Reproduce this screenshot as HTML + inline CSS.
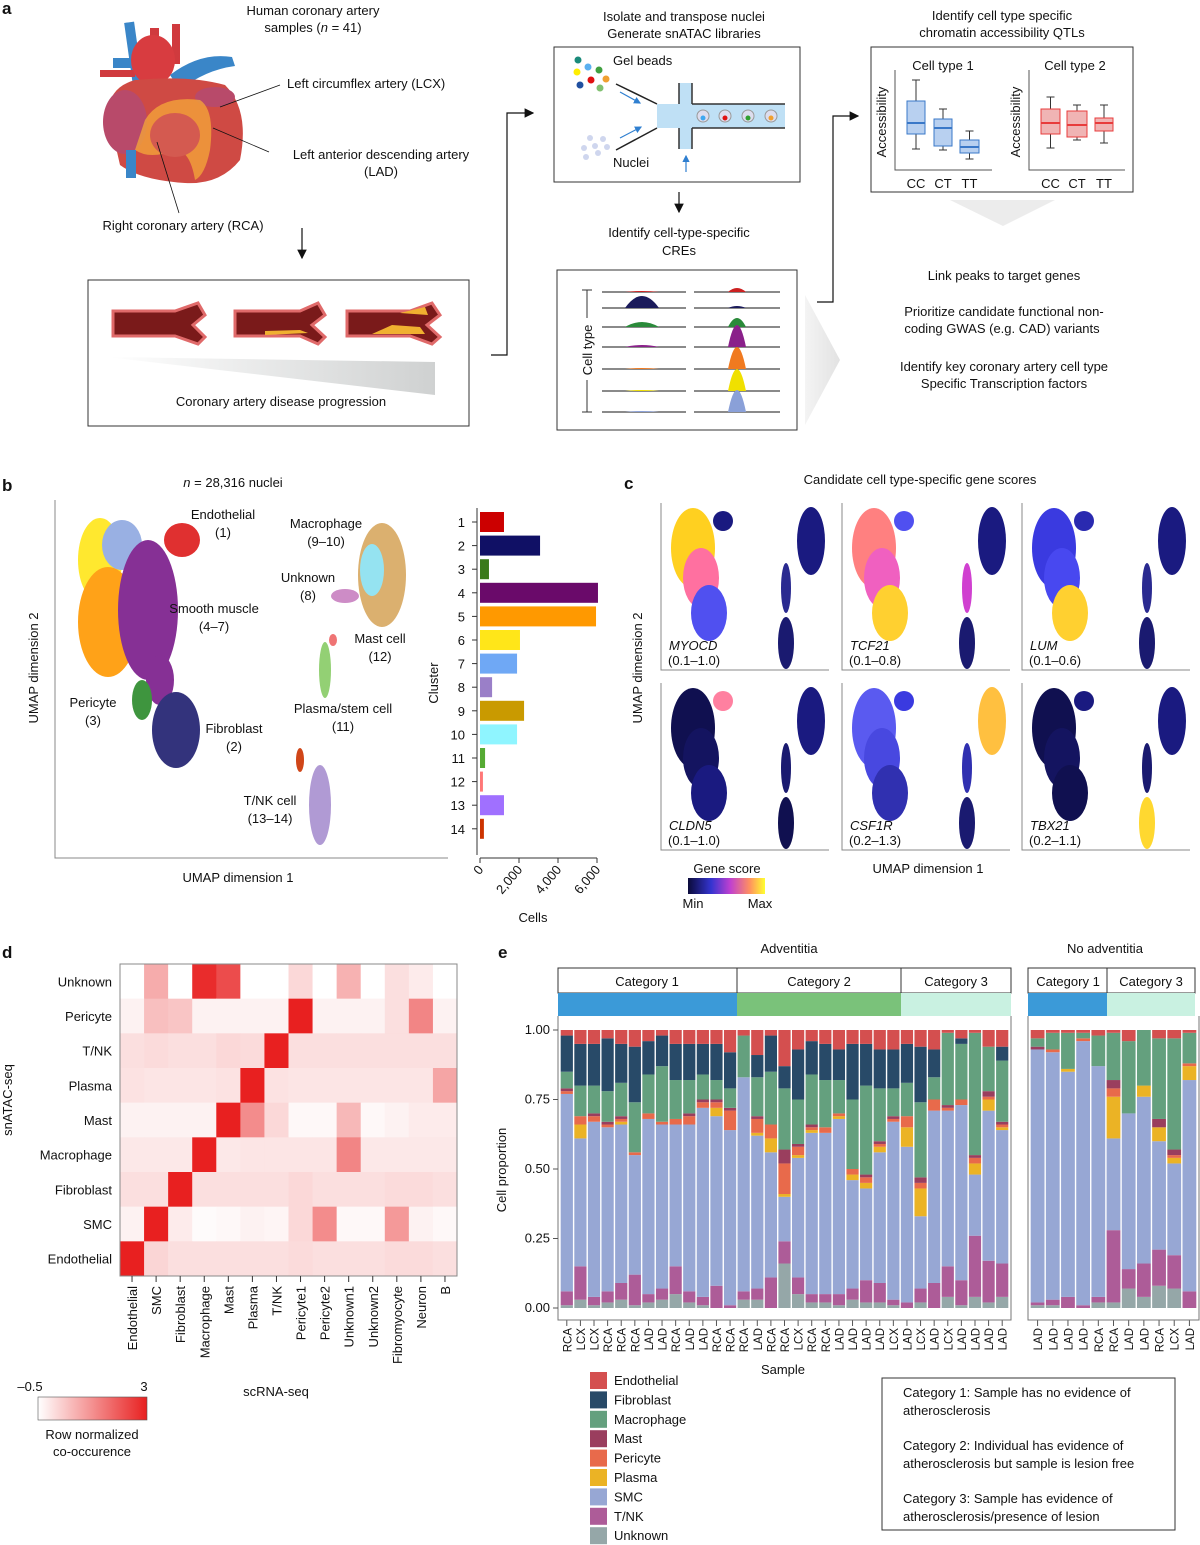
<!DOCTYPE html>
<html><head><meta charset="utf-8"><style>
html,body{margin:0;padding:0;background:#fff;}
svg{display:block;font-family:"Liberation Sans",Arial,sans-serif;}
text{fill:#111;}
</style></head><body>
<svg id="fig" width="1200" height="1545" viewBox="0 0 1200 1545" xmlns="http://www.w3.org/2000/svg">
<defs>
<linearGradient id="wedge" x1="0" x2="1" y1="0" y2="0"><stop offset="0" stop-color="#fff"/><stop offset="1" stop-color="#cfd1d1"/></linearGradient>
<linearGradient id="gscore" x1="0" x2="1"><stop offset="0" stop-color="#0b0b3a"/><stop offset="0.3" stop-color="#3434d0"/><stop offset="0.55" stop-color="#c040d0"/><stop offset="0.8" stop-color="#ff9060"/><stop offset="1" stop-color="#ffff30"/></linearGradient>
<linearGradient id="heatgrad" x1="0" x2="1"><stop offset="0" stop-color="#ffffff"/><stop offset="1" stop-color="#e82020"/></linearGradient>
<linearGradient id="chev" x1="0" x2="1"><stop offset="0" stop-color="#f4f4f4"/><stop offset="1" stop-color="#e2e2e2"/></linearGradient>
<marker id="ah" markerWidth="8" markerHeight="8" refX="7" refY="4" orient="auto"><path d="M0,0 L8,4 L0,8 z" fill="#111"/></marker>
<marker id="ahb" markerWidth="6" markerHeight="6" refX="5" refY="3" orient="auto"><path d="M0,0 L6,3 L0,6 z" fill="#2f7fd0"/></marker>
</defs>

<!-- ===== Panel a ===== -->
<g>
<text x="2" y="14" font-size="17" font-weight="bold">a</text>
<g>
<rect x="128" y="22" width="10" height="60" fill="#3a86c8" transform="rotate(-8 133 50)"/>
<rect x="113" y="58" width="30" height="10" fill="#3a86c8"/>
<rect x="150" y="28" width="9" height="45" fill="#d03a3e"/>
<rect x="172" y="24" width="8" height="40" fill="#d03a3e"/>
<rect x="100" y="70" width="35" height="7" fill="#d03a3e"/>
<ellipse cx="153" cy="60" rx="22" ry="25" fill="#d83c40"/>
<path d="M170,75 Q200,52 232,57 L235,66 Q205,70 180,90 z" fill="#3a86c8"/>
<path d="M112,130 Q100,90 135,80 Q190,75 225,85 Q250,110 240,160 Q220,185 185,183 Q140,180 120,165 z" fill="#cf4a44"/>
<ellipse cx="125" cy="122" rx="22" ry="32" fill="#b84a6a"/>
<ellipse cx="215" cy="97" rx="20" ry="10" fill="#b84a6a"/>
<path d="M145,120 Q160,95 200,100 Q215,110 210,150 Q205,175 195,180 Q190,150 175,150 Q150,160 135,150 z" fill="#f2a33a" opacity="0.8"/>
<ellipse cx="175" cy="135" rx="25" ry="22" fill="#d45a50"/>
<rect x="126" y="150" width="10" height="28" fill="#3a86c8"/>
<line x1="280" y1="85" x2="220" y2="107" stroke="#111" stroke-width="0.8"/>
<line x1="269" y1="152" x2="213" y2="128" stroke="#111" stroke-width="0.8"/>
<line x1="179" y1="213" x2="157" y2="142" stroke="#111" stroke-width="0.8"/>
</g>
<text x="313" y="15" font-size="13" text-anchor="middle">Human coronary artery</text>
<text x="313" y="32" font-size="13" text-anchor="middle">samples (<tspan font-style="italic">n</tspan> = 41)</text>
<text x="287" y="88" font-size="13">Left circumflex artery (LCX)</text>
<text x="381" y="159" font-size="13" text-anchor="middle">Left anterior descending artery</text>
<text x="381" y="176" font-size="13" text-anchor="middle">(LAD)</text>
<text x="183" y="230" font-size="13" text-anchor="middle">Right coronary artery (RCA)</text>
<line x1="302" y1="228" x2="302" y2="258" stroke="#111" stroke-width="1.2" marker-end="url(#ah)"/>
<rect x="88" y="280" width="381" height="146" fill="none" stroke="#333" stroke-width="1"/>
<g>
<path d="M113,311 L175,311 L198,303 L205,315 L193,325 L205,337 L198,344 L175,336 L113,336 z" fill="#7a1a1a" stroke="#e06a6a" stroke-width="3"/>
<path d="M235,311 L300,311 L318,303 L325,315 L312,325 L325,337 L318,344 L300,336 L235,336 z" fill="#7a1a1a" stroke="#e06a6a" stroke-width="3"/>
<path d="M265,331 L300,330 L308,333 L265,335 z" fill="#f0b030"/>
<path d="M347,311 L410,311 L432,303 L440,315 L427,325 L440,337 L432,344 L410,336 L347,336 z" fill="#7a1a1a" stroke="#e06a6a" stroke-width="3"/>
<path d="M372,334 L392,325 L420,327 L425,334 z" fill="#f0b030"/>
<path d="M400,313 L425,307 L428,315 z" fill="#f0b030"/>
</g>
<polygon points="107,357 435,362 435,395" fill="url(#wedge)"/>
<text x="281" y="406" font-size="13" text-anchor="middle">Coronary artery disease progression</text>
<polyline points="491,355 507,355 507,113 533,113" fill="none" stroke="#111" stroke-width="1.2" marker-end="url(#ah)"/>

<text x="684" y="21" font-size="13" text-anchor="middle">Isolate and transpose nuclei</text>
<text x="684" y="38" font-size="13" text-anchor="middle">Generate snATAC libraries</text>
<rect x="554" y="47" width="246" height="135" fill="none" stroke="#333" stroke-width="1"/>
<g>
<circle cx="578" cy="60" r="3.5" fill="#1a8a7a"/><circle cx="588" cy="67" r="3.5" fill="#5ab0f0"/><circle cx="599" cy="70" r="3.5" fill="#40a040"/>
<circle cx="577" cy="72" r="3.5" fill="#ffee00"/><circle cx="591" cy="80" r="3.5" fill="#e01010"/><circle cx="606" cy="79" r="3.5" fill="#f0a030"/>
<circle cx="580" cy="85" r="3.5" fill="#2050a0"/><circle cx="600" cy="88" r="3.5" fill="#80c070"/>
<g fill="#cfd6ee"><circle cx="590" cy="138" r="3"/><circle cx="603" cy="139" r="3"/><circle cx="584" cy="148" r="3"/><circle cx="595" cy="146" r="3"/><circle cx="607" cy="147" r="3"/><circle cx="598" cy="153" r="3"/><circle cx="586" cy="157" r="3"/></g>
<rect x="657" y="104" width="128" height="24" fill="#bfe0f5"/>
<rect x="679" y="83" width="13" height="66" fill="#bfe0f5"/>
<line x1="616" y1="84" x2="657" y2="104" stroke="#222" stroke-width="1.5"/>
<line x1="616" y1="150" x2="657" y2="128" stroke="#222" stroke-width="1.5"/>
<line x1="692" y1="104" x2="785" y2="104" stroke="#333" stroke-width="1.5"/><line x1="692" y1="128" x2="785" y2="128" stroke="#333" stroke-width="1.5"/>
<line x1="679" y1="83" x2="679" y2="104" stroke="#333" stroke-width="1.5"/><line x1="692" y1="83" x2="692" y2="104" stroke="#333" stroke-width="1.5"/>
<line x1="679" y1="128" x2="679" y2="149" stroke="#333" stroke-width="1.5"/><line x1="692" y1="128" x2="692" y2="149" stroke="#333" stroke-width="1.5"/>
<g stroke="#999" fill="#dde"><circle cx="703" cy="116" r="6"/><circle cx="725" cy="116" r="6"/><circle cx="748" cy="116" r="6"/><circle cx="771" cy="116" r="6"/></g>
<circle cx="703" cy="118" r="2.5" fill="#40a8f0"/><circle cx="725" cy="118" r="2.5" fill="#e01010"/><circle cx="748" cy="118" r="2.5" fill="#30a030"/><circle cx="771" cy="118" r="2.5" fill="#f0a030"/>
<line x1="620" y1="92" x2="640" y2="103" stroke="#2f7fd0" stroke-width="1.2" marker-end="url(#ahb)"/>
<line x1="620" y1="138" x2="641" y2="127" stroke="#2f7fd0" stroke-width="1.2" marker-end="url(#ahb)"/>
<line x1="686" y1="172" x2="686" y2="156" stroke="#2f7fd0" stroke-width="1.2" marker-end="url(#ahb)"/>
</g>
<text x="613" y="65" font-size="13">Gel beads</text>
<text x="613" y="167" font-size="13">Nuclei</text>
<line x1="679" y1="192" x2="679" y2="212" stroke="#111" stroke-width="1.2" marker-end="url(#ah)"/>
<text x="679" y="237" font-size="13" text-anchor="middle">Identify cell-type-specific</text>
<text x="679" y="255" font-size="13" text-anchor="middle">CREs</text>
<rect x="557" y="270" width="240" height="160" fill="none" stroke="#333" stroke-width="1"/>
<g id="tracks"></g>
<line x1="587" y1="290" x2="587" y2="412" stroke="#333"/><line x1="582" y1="290" x2="592" y2="290" stroke="#333"/><line x1="582" y1="412" x2="592" y2="412" stroke="#333"/>
<rect x="578" y="318" width="18" height="62" fill="#fff"/>
<text transform="translate(592,350) rotate(-90)" font-size="13" text-anchor="middle">Cell type</text>
<polygon points="805,295 840,360 805,425" fill="url(#chev)"/>
<polyline points="817,302 833,302 833,116 858,116" fill="none" stroke="#111" stroke-width="1.2" marker-end="url(#ah)"/>

<text x="1002" y="20" font-size="13" text-anchor="middle">Identify cell type specific</text>
<text x="1002" y="37" font-size="13" text-anchor="middle">chromatin accessibility QTLs</text>
<rect x="871" y="47" width="262" height="145" fill="none" stroke="#333" stroke-width="1"/>
<g id="qtl"></g>
<polygon points="950,200 1055,200 1003,226" fill="#ececec"/>
<text x="1004" y="280" font-size="13" text-anchor="middle">Link peaks to target genes</text>
<text x="1004" y="316" font-size="13" text-anchor="middle">Prioritize candidate functional  non-</text>
<text x="1002" y="333" font-size="13" text-anchor="middle">coding GWAS (e.g. CAD) variants</text>
<text x="1004" y="371" font-size="13" text-anchor="middle">Identify key coronary artery cell type</text>
<text x="1004" y="388" font-size="13" text-anchor="middle">Specific Transcription factors</text>
</g>

<!-- ===== Panel b ===== -->
<g>
<text x="2" y="491" font-size="17" font-weight="bold">b</text>
<text x="233" y="487" font-size="13" text-anchor="middle"><tspan font-style="italic">n</tspan> = 28,316 nuclei</text>
<polyline points="55,500 55,858 448,858" fill="none" stroke="#888" stroke-width="1"/>
<g opacity="0.9">
<ellipse cx="100" cy="560" rx="22" ry="42" fill="#ffe619"/>
<ellipse cx="108" cy="622" rx="30" ry="55" fill="#ff9900"/>
<ellipse cx="122" cy="545" rx="20" ry="25" fill="#8ea8e0"/>
<ellipse cx="148" cy="610" rx="30" ry="70" fill="#7a1a8a"/>
<ellipse cx="160" cy="680" rx="14" ry="25" fill="#7a1a8a"/>
<ellipse cx="182" cy="540" rx="18" ry="17" fill="#dd1a1a"/>
<ellipse cx="176" cy="730" rx="24" ry="38" fill="#1e1e6e"/>
<ellipse cx="142" cy="700" rx="10" ry="20" fill="#2a8a2a"/>
<ellipse cx="382" cy="575" rx="24" ry="52" fill="#d8a860"/>
<ellipse cx="372" cy="570" rx="12" ry="26" fill="#8ae0f0"/>
<ellipse cx="345" cy="596" rx="14" ry="7" fill="#c880c0"/>
<ellipse cx="325" cy="670" rx="6" ry="28" fill="#88cc66"/>
<ellipse cx="333" cy="640" rx="4" ry="6" fill="#ee6666"/>
<ellipse cx="320" cy="805" rx="11" ry="40" fill="#a890d0"/>
<ellipse cx="300" cy="760" rx="4" ry="12" fill="#cc3300"/>
</g>
<g font-size="13" text-anchor="middle">
<text x="223" y="519">Endothelial</text><text x="223" y="537">(1)</text>
<text x="326" y="528">Macrophage</text><text x="326" y="546">(9–10)</text>
<text x="308" y="582">Unknown</text><text x="308" y="600">(8)</text>
<text x="214" y="613">Smooth muscle</text><text x="214" y="631">(4–7)</text>
<text x="380" y="643">Mast cell</text><text x="380" y="661">(12)</text>
<text x="93" y="707">Pericyte</text><text x="93" y="725">(3)</text>
<text x="234" y="733">Fibroblast</text><text x="234" y="751">(2)</text>
<text x="343" y="713">Plasma/stem cell</text><text x="343" y="731">(11)</text>
<text x="270" y="805">T/NK cell</text><text x="270" y="823">(13–14)</text>
</g>
<text transform="translate(38,668) rotate(-90)" font-size="13" text-anchor="middle">UMAP dimension  2</text>
<text x="238" y="882" font-size="13" text-anchor="middle">UMAP dimension  1</text>
<g id="barsB"></g>
<text transform="translate(438,683) rotate(-90)" font-size="13" text-anchor="middle">Cluster</text>
<text x="533" y="922" font-size="13" text-anchor="middle">Cells</text>
</g>

<!-- ===== Panel c ===== -->
<g>
<text x="624" y="489" font-size="17" font-weight="bold">c</text>
<text x="920" y="484" font-size="13" text-anchor="middle">Candidate cell type-specific gene scores</text>
<g id="genepanels"></g>
<text transform="translate(642,668) rotate(-90)" font-size="13" text-anchor="middle">UMAP dimension  2</text>
<text x="928" y="873" font-size="13" text-anchor="middle">UMAP dimension  1</text>
<text x="727" y="873" font-size="13" text-anchor="middle">Gene score</text>
<rect x="688" y="878" width="77" height="16" fill="url(#gscore)"/>
<text x="693" y="908" font-size="13" text-anchor="middle">Min</text>
<text x="760" y="908" font-size="13" text-anchor="middle">Max</text>
</g>

<!-- ===== Panel d ===== -->
<g>
<text x="2" y="958" font-size="17" font-weight="bold">d</text>
<g id="heat"></g>
<text transform="translate(12,1100) rotate(-90)" font-size="13" text-anchor="middle">snATAC-seq</text>
<text x="276" y="1396" font-size="13" text-anchor="middle">scRNA-seq</text>
<text x="30" y="1391" font-size="13" text-anchor="middle">–0.5</text>
<text x="144" y="1391" font-size="13" text-anchor="middle">3</text>
<rect x="38" y="1397" width="109" height="23" fill="url(#heatgrad)" stroke="#555" stroke-width="0.6"/>
<text x="92" y="1439" font-size="13" text-anchor="middle">Row normalized</text>
<text x="92" y="1456" font-size="13" text-anchor="middle">co-occurence</text>
</g>

<!-- ===== Panel e ===== -->
<g>
<text x="498" y="958" font-size="17" font-weight="bold">e</text>
<text x="789" y="953" font-size="13" text-anchor="middle">Adventitia</text>
<text x="1105" y="953" font-size="13" text-anchor="middle">No adventitia</text>
<g>
<rect x="558" y="968" width="453" height="25" fill="#fff" stroke="#333"/>
<line x1="737" y1="968" x2="737" y2="993" stroke="#333"/><line x1="901" y1="968" x2="901" y2="993" stroke="#333"/>
<text x="647" y="986" font-size="13" text-anchor="middle">Category 1</text>
<text x="819" y="986" font-size="13" text-anchor="middle">Category 2</text>
<text x="956" y="986" font-size="13" text-anchor="middle">Category 3</text>
<rect x="558" y="993" width="179" height="23" fill="#3b9ad8"/><rect x="737" y="993" width="164" height="23" fill="#7ac27a"/><rect x="901" y="993" width="110" height="23" fill="#c9f1e1"/>
</g>
<g>
<rect x="1028" y="968" width="167" height="25" fill="#fff" stroke="#333"/>
<line x1="1107" y1="968" x2="1107" y2="993" stroke="#333"/>
<text x="1068" y="986" font-size="13" text-anchor="middle">Category 1</text>
<text x="1151" y="986" font-size="13" text-anchor="middle">Category 3</text>
<rect x="1028" y="993" width="79" height="23" fill="#3b9ad8"/><rect x="1107" y="993" width="88" height="23" fill="#c9f1e1"/>
</g>
<g id="stackL"></g>
<g id="stackR"></g>
<text transform="translate(506,1170) rotate(-90)" font-size="13" text-anchor="middle">Cell proportion</text>
<text x="783" y="1374" font-size="13" text-anchor="middle">Sample</text>
<g id="legendE"></g>
<rect x="882" y="1378" width="293" height="152" fill="#fff" stroke="#333"/>
<g font-size="13">
<text x="903" y="1397">Category 1: Sample has no evidence of</text>
<text x="903" y="1415">atherosclerosis</text>
<text x="903" y="1450">Category 2: Individual has evidence of</text>
<text x="903" y="1468">atherosclerosis but sample is lesion free</text>
<text x="903" y="1503">Category 3: Sample has evidence of</text>
<text x="903" y="1521">atherosclerosis/presence of lesion</text>
</g>
</g>
</svg>
<script>
// ---- Panel b cluster counts ----
const clusterIds = [1,2,3,4,5,6,7,8,9,10,11,12,13,14];
const clusterCells = [1230,3080,460,6050,5950,2050,1900,620,2260,1900,260,150,1230,200];
const clusterColors = ["#cc0000","#101065","#3a7a1a","#6a0a6a","#ff9900","#ffe619","#6fa8f5","#9a7fc8","#c99a00","#8ff5ff","#55aa33","#ff7777","#a070ff","#cc3300"];
const cellTicks = [0,2000,4000,6000];
const cellTickLabels = ["0","2,000","4,000","6,000"];

// ---- Panel d heatmap ----
const heatRows = ["Unknown","Pericyte","T/NK","Plasma","Mast","Macrophage","Fibroblast","SMC","Endothelial"];
const heatCols = ["Endothelial","SMC","Fibroblast","Macrophage","Mast","Plasma","T/NK","Pericyte1","Pericyte2","Unknown1","Unknown2","Fibromyocyte","Neuron","B"];
const heatUnknown =    [-0.5,0.8,-0.5,2.8,2.3,-0.5,-0.5,0.1,-0.5,0.7,-0.5,0.0,-0.2,-0.5];
const heatPericyte =   [-0.3,0.5,0.4,-0.3,-0.3,-0.3,-0.3,3,-0.3,-0.3,-0.3,0.0,1.4,-0.3];
const heatTNK =        [0,0.05,0,0,0.1,0.05,3,0,0,0,0,0,0,0];
const heatPlasma =     [-0.05,-0.1,-0.1,-0.1,-0.05,3,-0.05,-0.1,-0.1,-0.1,-0.1,-0.1,-0.1,0.9];
const heatMast =       [-0.3,-0.3,-0.3,-0.3,3,1.3,0.1,-0.4,-0.4,0.6,-0.4,-0.3,-0.2,-0.2];
const heatMacrophage = [-0.15,-0.15,-0.15,3,-0.15,-0.1,-0.1,-0.1,-0.1,1.4,-0.15,-0.15,-0.15,-0.15];
const heatFibroblast = [0,0,3,0,0,0,0,0.1,0,0,0,0.05,0.05,0];
const heatSMC =        [-0.3,3,-0.2,-0.45,-0.4,-0.3,-0.35,0.1,1.3,-0.4,-0.4,1.1,-0.3,-0.4];
const heatEndothelial =[3,0.15,0,0,0,0,0,0.05,0,0,0,0.05,0.05,0];

// ---- Panel e stacked proportions (left: adventitia, 33 samples) ----
const samplesL = ["RCA","LCX","LCX","RCA","RCA","RCA","LAD","LAD","RCA","LAD","LAD","RCA","RCA","RCA","LAD","RCA","RCA","LCX","RCA","RCA","LAD","LAD","LAD","LAD","LCX","LAD","LCX","LAD","LCX","LAD","LAD","LAD","LAD"];
const unknownL =    [1,3,1,2,3,1,2,3,5,2,1,0,0,3,3,0,16,5,2,2,1,3,2,2,1,0,2,0,4,1,4,2,4];
const tnkL =        [5,12,3,4,6,11,3,4,10,4,3,8,1,3,4,11,8,6,3,3,4,4,8,7,2,2,5,9,11,9,22,15,12];
const smcL =        [71,46,63,59,57,43,63,59,51,60,68,61,63,77,55,45,16,43,58,58,63,39,33,47,64,56,26,62,56,63,22,54,48];
const plasmaL =     [0,5,0,0,1,0,0,0,0,0,0,3,0,0,1,5,1,1,1,0,1,2,2,2,0,7,10,0,0,0,4,4,1];
const pericyteL =   [1,3,2,1,1,1,2,1,2,3,2,2,7,0,5,5,11,3,1,2,1,2,2,1,1,4,2,4,1,2,2,1,1];
const mastL =       [1,0,1,1,1,0,0,0,0,1,1,1,1,0,1,0,5,1,1,0,0,0,1,1,1,0,2,0,1,0,1,2,1];
const macrophageL = [6,11,10,11,12,18,14,20,14,12,9,7,7,15,14,19,22,16,18,17,12,25,32,19,10,12,27,8,26,20,44,16,22];
const fibroblastL = [13,15,15,19,14,20,12,11,13,13,11,13,13,0,8,13,8,18,12,13,11,20,15,14,14,14,20,10,0,2,0,0,5];
const endothelialL =[2,5,5,3,5,6,4,2,5,5,5,5,8,2,9,2,13,7,4,5,7,5,5,7,7,5,6,7,1,3,1,6,6];
// right: no adventitia, 11 samples
const samplesR = ["LAD","LAD","LAD","LAD","RCA","RCA","LAD","LAD","RCA","LCX","LAD"];
const unknownR =    [1,1,0,0,2,2,7,4,8,7,0];
const tnkR =        [1,2,4,1,2,26,7,12,13,12,6];
const smcR =        [91,89,81,95,83,33,56,60,39,33,76];
const plasmaR =     [0,0,1,0,0,15,0,4,5,2,5];
const pericyteR =   [0,1,0,1,0,3,0,0,0,1,1];
const mastR =       [1,0,0,0,0,3,0,0,3,2,0];
const macrophageR = [3,6,13,2,11,17,26,20,29,40,11];
const fibroblastR = [0,0,0,0,0,0,0,0,0,0,0];
const endothelialR =[3,1,1,1,2,1,4,0,3,3,1];
const cellTypes = ["Endothelial","Fibroblast","Macrophage","Mast","Pericyte","Plasma","SMC","T/NK","Unknown"];
const cellColors = ["#d44f4f","#284a68","#64a07e","#9a3e5e","#e86a4b","#ebb325","#97a7d4","#ad5c98","#95a7a8"];
const propTicks = [0,0.25,0.5,0.75,1];
const propTickLabels = ["0.00","0.25","0.50","0.75","1.00"];

const NS = "http://www.w3.org/2000/svg";
function mk(tag, attrs, parent){const e=document.createElementNS(NS,tag);for(const k in attrs)e.setAttribute(k,attrs[k]);parent.appendChild(e);return e;}

// --- QTL boxplots ---
(function(){
  const g=document.getElementById('qtl');
  const boxes=[[907,925,80,149,101,134,123],[934,952,109,150,119,146,128],[960,979,131,159,140,153,147],
               [1041,1060,97,148,109,134,123],[1067,1087,105,140,111,137,125],[1095,1113,105,143,118,131,123]];
  boxes.forEach((b,i)=>{
    const blue=i<3; const s=blue?"#3a78c8":"#e83c3c"; const f=blue?"#b8d0f0":"#f0b4b4";
    const cx=(b[0]+b[1])/2;
    mk('line',{x1:cx,x2:cx,y1:b[2],y2:b[3],stroke:"#333"},g);
    mk('line',{x1:cx-4,x2:cx+4,y1:b[2],y2:b[2],stroke:"#333"},g);
    mk('line',{x1:cx-4,x2:cx+4,y1:b[3],y2:b[3],stroke:"#333"},g);
    mk('rect',{x:b[0],y:b[4],width:b[1]-b[0],height:b[5]-b[4],fill:f,stroke:s},g);
    mk('line',{x1:b[0],x2:b[1],y1:b[6],y2:b[6],stroke:s,"stroke-width":2},g);
    const t=mk('text',{x:cx,y:188,"font-size":13,"text-anchor":"middle"},g); t.textContent=["CC","CT","TT"][i%3];
  });
  mk('polyline',{points:"895,70 895,170 992,170",fill:"none",stroke:"#555"},g);
  mk('polyline',{points:"1029,70 1029,170 1125,170",fill:"none",stroke:"#555"},g);
  let t=mk('text',{x:943,y:70,"font-size":13,"text-anchor":"middle"},g);t.textContent="Cell type 1";
  t=mk('text',{x:1075,y:70,"font-size":13,"text-anchor":"middle"},g);t.textContent="Cell type 2";
  t=mk('text',{transform:"translate(886,122) rotate(-90)","font-size":13,"text-anchor":"middle"},g);t.textContent="Accessibility";
  t=mk('text',{transform:"translate(1020,122) rotate(-90)","font-size":13,"text-anchor":"middle"},g);t.textContent="Accessibility";
})();

// --- CRE tracks ---
(function(){
  const g=document.getElementById('tracks');
  const ys=[292,308,327,347,369,391,412];
  const cols=["#cc2020","#1a1a5a","#2a8a3a","#8a208a","#f07a20","#f0e000","#8aa0d8"];
  const hL=[1,12,5,2,1,1,1], hR=[4,2,9,22,22,22,22];
  ys.forEach((y,i)=>{
    mk('line',{x1:602,x2:686,y1:y,y2:y,stroke:"#444","stroke-width":1.3},g);
    mk('line',{x1:694,x2:780,y1:y,y2:y,stroke:"#444","stroke-width":1.3},g);
    mk('path',{d:`M625,${y} Q642,${y-hL[i]*2} 659,${y} z`,fill:cols[i]},g);
    mk('path',{d:`M728,${y} Q737,${y-hR[i]*2} 746,${y} z`,fill:cols[i]},g);
  });
})();

// --- Panel b bars ---
(function(){
  const g=document.getElementById('barsB');
  const x0=480, xs=117/6000, y0=522, dy=23.6;
  function X(v){return x0+v*xs;}
  function Y(i){return y0+i*dy;}
  mk('line',{x1:477,x2:477,y1:508,y2:855,stroke:"#333"},g);
  mk('line',{x1:X(0),x2:X(6000),y1:858,y2:858,stroke:"#333"},g);
  clusterIds.forEach((c,i)=>{
    const r=mk('rect',{x:x0,y:Y(i)-10,width:X(clusterCells[i])-x0,height:20,fill:clusterColors[i]},g);
    
    
    const t=mk('text',{x:465,y:Y(i)+5,"font-size":13,"text-anchor":"end"},g); t.textContent=c;
    mk('line',{x1:472,x2:477,y1:Y(i),y2:Y(i),stroke:"#333"},g);
  });
  cellTicks.forEach((v,i)=>{
    mk('line',{x1:X(v),x2:X(v),y1:858,y2:863,stroke:"#333"},g);
    const t=mk('text',{transform:`translate(${X(v)+4},870) rotate(-50)`,"font-size":13,"text-anchor":"end"},g); t.textContent=cellTickLabels[i];
  });
})();

// --- Panel c gene panels ---
(function(){
  const g=document.getElementById('genepanels');
  const pos=[[661,503],[842,503],[1022,503],[661,683],[842,683],[1022,683]];
  const genes=["MYOCD","TCF21","LUM","CLDN5","CSF1R","TBX21"];
  const ranges=["(0.1–1.0)","(0.1–0.8)","(0.1–0.6)","(0.1–1.0)","(0.2–1.3)","(0.2–1.1)"];
  // colors: [bigTop, bigMid, bigBottom, endothelial, macro, stream, tnk]
  const cs=[["#ffd020","#ff70a0","#5050f0","#1a1a80","#1a1a80","#2a2a90","#1a1a70"],
            ["#ff8080","#f060c0","#ffd030","#5050f0","#1a1a80","#d040d0","#1a1a70"],
            ["#3a3ae0","#4848f0","#ffd030","#2a2ab0","#1a1a80","#2a2a90","#1a1a70"],
            ["#101050","#141460","#1a1a80","#ff80a0","#1a1a80","#1a1a70","#101050"],
            ["#5a5af0","#4848e0","#3030b0","#3a3ae0","#ffc040","#3030b0","#1a1a70"],
            ["#101050","#141460","#101050","#1a1a80","#1a1a80","#1a1a70","#ffd830"]];
  pos.forEach((p,i)=>{
    const [x,y]=p; const c=cs[i];
    mk('polyline',{points:`${x},${y} ${x},${y+167} ${x+168},${y+167}`,fill:"none",stroke:"#888"},g);
    mk('ellipse',{cx:x+32,cy:y+45,rx:22,ry:40,fill:c[0]},g);
    mk('ellipse',{cx:x+40,cy:y+75,rx:18,ry:30,fill:c[1]},g);
    mk('ellipse',{cx:x+48,cy:y+110,rx:18,ry:28,fill:c[2]},g);
    mk('ellipse',{cx:x+62,cy:y+18,rx:10,ry:10,fill:c[3]},g);
    mk('ellipse',{cx:x+150,cy:y+38,rx:14,ry:34,fill:c[4]},g);
    mk('ellipse',{cx:x+125,cy:y+85,rx:5,ry:25,fill:c[5]},g);
    mk('ellipse',{cx:x+125,cy:y+140,rx:8,ry:26,fill:c[6]},g);
    let t=mk('text',{x:x+8,y:y+147,"font-size":13,"font-style":"italic"},g); t.textContent=genes[i];
    t=mk('text',{x:x+7,y:y+162,"font-size":13},g); t.textContent=ranges[i];
  });
})();

// --- Panel d heatmap ---
(function(){
  const g=document.getElementById('heat');
  const rows=[heatUnknown,heatPericyte,heatTNK,heatPlasma,heatMast,heatMacrophage,heatFibroblast,heatSMC,heatEndothelial];
  const x0=120,y0=964,cw=337/14,ch=312/9;
  function col(v){const t=Math.max(0,Math.min(1,(v+0.5)/3.5));const r=255+(232-255)*t,gg=255+(32-255)*t,b=255+(32-255)*t;return `rgb(${r|0},${gg|0},${b|0})`;}
  rows.forEach((vals,ri)=>{
    vals.forEach((v,ci)=>{
      const r=mk('rect',{x:x0+ci*cw,y:y0+ri*ch,width:cw+0.5,height:ch+0.5,fill:col(v)},g);
      
      
    });
    const t=mk('text',{x:112,y:y0+ri*ch+ch/2+5,"font-size":13,"text-anchor":"end"},g); t.textContent=heatRows[ri];
  });
  mk('rect',{x:x0,y:y0,width:337,height:312,fill:"none",stroke:"#888"},g);
  heatCols.forEach((c,ci)=>{
    const cx=x0+ci*cw+cw/2;
    mk('line',{x1:cx,x2:cx,y1:y0+312,y2:y0+318,stroke:"#333"},g);
    const t=mk('text',{transform:`translate(${cx+5},${y0+322}) rotate(-90)`,"font-size":13,"text-anchor":"end"},g); t.textContent=c;
  });
})();

// --- Panel e stacked bars ---
function drawStack(gid, series, samples, xL, xR, withAxis){
  const g=document.getElementById(gid);
  const yB=1308, yT=1030;
  function Y(v){return yB-(yB-yT)*v;}
  const n=samples.length, w=(xR-xL)/n;
  // order bottom->top: Unknown, T/NK, SMC, Plasma, Pericyte, Mast, Macrophage, Fibroblast, Endothelial
  const order=[8,7,6,5,4,3,2,1,0];
  for(let i=0;i<n;i++){
    let tot=0; series.forEach(s=>tot+=s[i]);
    let acc=0;
    order.forEach((ci,k)=>{
      const v=series[k][i]/tot;
      const r=mk('rect',{x:xL+i*w+0.7,y:Y(acc+v),width:w-1.4,height:Math.max(0,Y(acc)-Y(acc+v)),fill:cellColors[ci]},g);
      
      
      acc+=v;
    });
    const cx=xL+i*w+w/2;
    mk('line',{x1:cx,x2:cx,y1:1320,y2:1326,stroke:"#555"},g);
    const t=mk('text',{transform:`translate(${cx+4.5},1328) rotate(-90)`,"font-size":11.5,"text-anchor":"end"},g); t.textContent=samples[i];
  }
  mk('polyline',{points:`${xL-2},1016 ${xL-2},1320 ${xR+2},1320 ${xR+2},1016`,fill:"none",stroke:"#777"},g);
  if(withAxis){
    propTicks.forEach((v,i)=>{
      mk('line',{x1:xL-7,x2:xL-2,y1:Y(v),y2:Y(v),stroke:"#555"},g);
      const t=mk('text',{x:xL-10,y:Y(v)+4,"font-size":13,"text-anchor":"end"},g); t.textContent=propTickLabels[i];
    });
  }
}
drawStack('stackL',[unknownL,tnkL,smcL,plasmaL,pericyteL,mastL,macrophageL,fibroblastL,endothelialL],samplesL,560,1009,true);
drawStack('stackR',[unknownR,tnkR,smcR,plasmaR,pericyteR,mastR,macrophageR,fibroblastR,endothelialR],samplesR,1030,1197,false);

// --- legend ---
(function(){
  const g=document.getElementById('legendE');
  cellTypes.forEach((c,i)=>{
    const y=1372+i*19.4;
    const r=mk('rect',{x:590,y:y,width:17,height:17,fill:cellColors[i]},g);
    
    
    const t=mk('text',{x:614,y:y+13,"font-size":13},g); t.textContent=c;
  });
})();
</script>
</body></html>
